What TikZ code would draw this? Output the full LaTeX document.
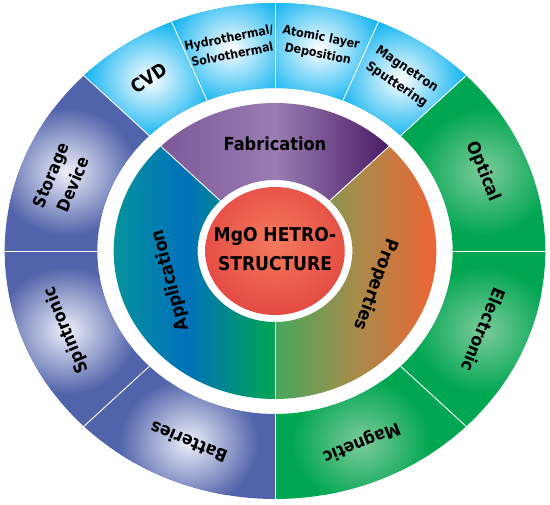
\documentclass[tikz,border=0pt]{standalone}
\usepackage{fontspec}
\setmainfont{DejaVu Sans Condensed}
\usepackage{xcolor}
\usepackage{tikz}
\usetikzlibrary{calc}

\definecolor{cvdblue}{HTML}{00AEEF}
\definecolor{appblue}{HTML}{5163AA}
\definecolor{propgreen}{HTML}{00A651}
\definecolor{glowblue}{HTML}{EEF0FA}
\definecolor{glowgreen}{HTML}{7CCB9A}
\definecolor{fableft}{HTML}{7D5898}
\definecolor{fabmid}{HTML}{9A7DB3}
\definecolor{fabright}{HTML}{4B1C65}
\definecolor{appleft}{HTML}{079A97}
\definecolor{appmid}{HTML}{0071BB}
\definecolor{appright}{HTML}{00A651}
\definecolor{propleft}{HTML}{45A85C}
\definecolor{propmid}{HTML}{A78B4A}
\definecolor{propright}{HTML}{EE6434}
\definecolor{corein}{HTML}{F47A5E}
\definecolor{coreout}{HTML}{D7232B}

\begin{document}
\begin{tikzpicture}[x=1.09pt, y=1pt,
        ringpart/.style n args={4}{insert path={(#1:#4) arc[start angle=#1, end angle=#2, radius=#4] -- (#2:#3) arc[start angle=#2, end angle=#1, radius=#3] -- cycle}},
        divider/.style={draw=white, line width=0.9pt},
        bandlabel/.style={font=\bfseries\fontsize{17.5}{21}\selectfont, align=center, inner sep=0pt},
        twoline/.style={font=\bfseries\fontsize{12.3}{17}\selectfont, align=center, inner sep=0pt},
        ringlabel/.style={font=\bfseries\fontsize{18}{20}\selectfont, align=center, inner sep=0pt}]
        \useasboundingbox (-252.3,-254) rectangle (252.3,251);

        % outer band
        \foreach \from/\to/\col/\glow in {112.5/135/cvdblue/white, 90/112.5/cvdblue/white, 67.5/90/cvdblue/white, 45/67.5/cvdblue/white,
            0/45/propgreen/glowgreen, -45/0/propgreen/glowgreen, -90/-45/propgreen/glowgreen,
            225/270/appblue/glowblue, 180/225/appblue/glowblue, 135/180/appblue/glowblue} {
            \begin{scope}
                \clip[ringpart={\from}{\to}{163}{248}];
                \fill[\col] (0,0) circle (250);
                \shade[inner color=\glow, outer color=\col] ({(\from+\to)/2}:207) circle (64);
            \end{scope}
        }
        \foreach \a in {0,45,67.5,90,112.5,135,180,225,270,315}
            \draw[divider] (\a:163) -- (\a:248);

        % inner ring
        \shade[left color=fableft, right color=fabright, middle color=fabmid, ringpart={45}{135}{71}{148}];
        \shade[left color=appleft, right color=appright, middle color=appmid, ringpart={135}{270}{71}{148}];
        \shade[left color=propleft, right color=propright, middle color=propmid, ringpart={-90}{45}{71}{148}];
        \foreach \a in {45,135,270}
            \draw[divider] (\a:71) -- (\a:148);

        % core
        \begin{scope}
            \clip (0,0) circle (64);
            \shade[inner color=corein, outer color=coreout] (0,8) circle (130);
        \end{scope}
        \node[ringlabel, font=\bfseries\fontsize{19}{29}\selectfont] (core) at (0,2) {MgO HETRO-\\STRUCTURE};

        \node[ringlabel] (fab) at (90:107) {Fabrication};
        \node[ringlabel, rotate=104] (app) at (197:100) {Application};
        \node[ringlabel, rotate=-110] (prop) at (-20:98) {Properties};

        % band labels
        \node[bandlabel, font=\bfseries\fontsize{18.5}{21}\selectfont, rotate=33.75] (cvd) at (123.75:208) {CVD};
        \node[twoline, rotate=11.25] (hydro) at (101.25:209) {Hydrothermal/\\Solvothermal};
        \node[twoline, rotate=-11.25] (ald) at (78.75:209) {Atomic layer\\Deposition};
        \node[twoline, font=\bfseries\fontsize{13}{18.5}\selectfont, rotate=-33.75] (sputter) at (56.25:209) {Magnetron\\Sputtering};
        \node[bandlabel, rotate=-67.5] (optical) at (22.5:207) {Optical};
        \node[bandlabel, rotate=-112.5] (electronic) at (-22.5:207) {Electronic};
        \node[bandlabel, rotate=-157.5] (magnetic) at (-67.5:207) {Magnetic};
        \node[bandlabel, rotate=157.5] (batteries) at (247.5:207) {Batteries};
        \node[bandlabel, rotate=112.5] (spintronic) at (202.5:207) {Spintronic};
        \node[bandlabel, font=\bfseries\fontsize{17}{24}\selectfont, rotate=67.5] (storage) at (160:208) {Storage\\Device};
    \end{tikzpicture}
\end{document}
